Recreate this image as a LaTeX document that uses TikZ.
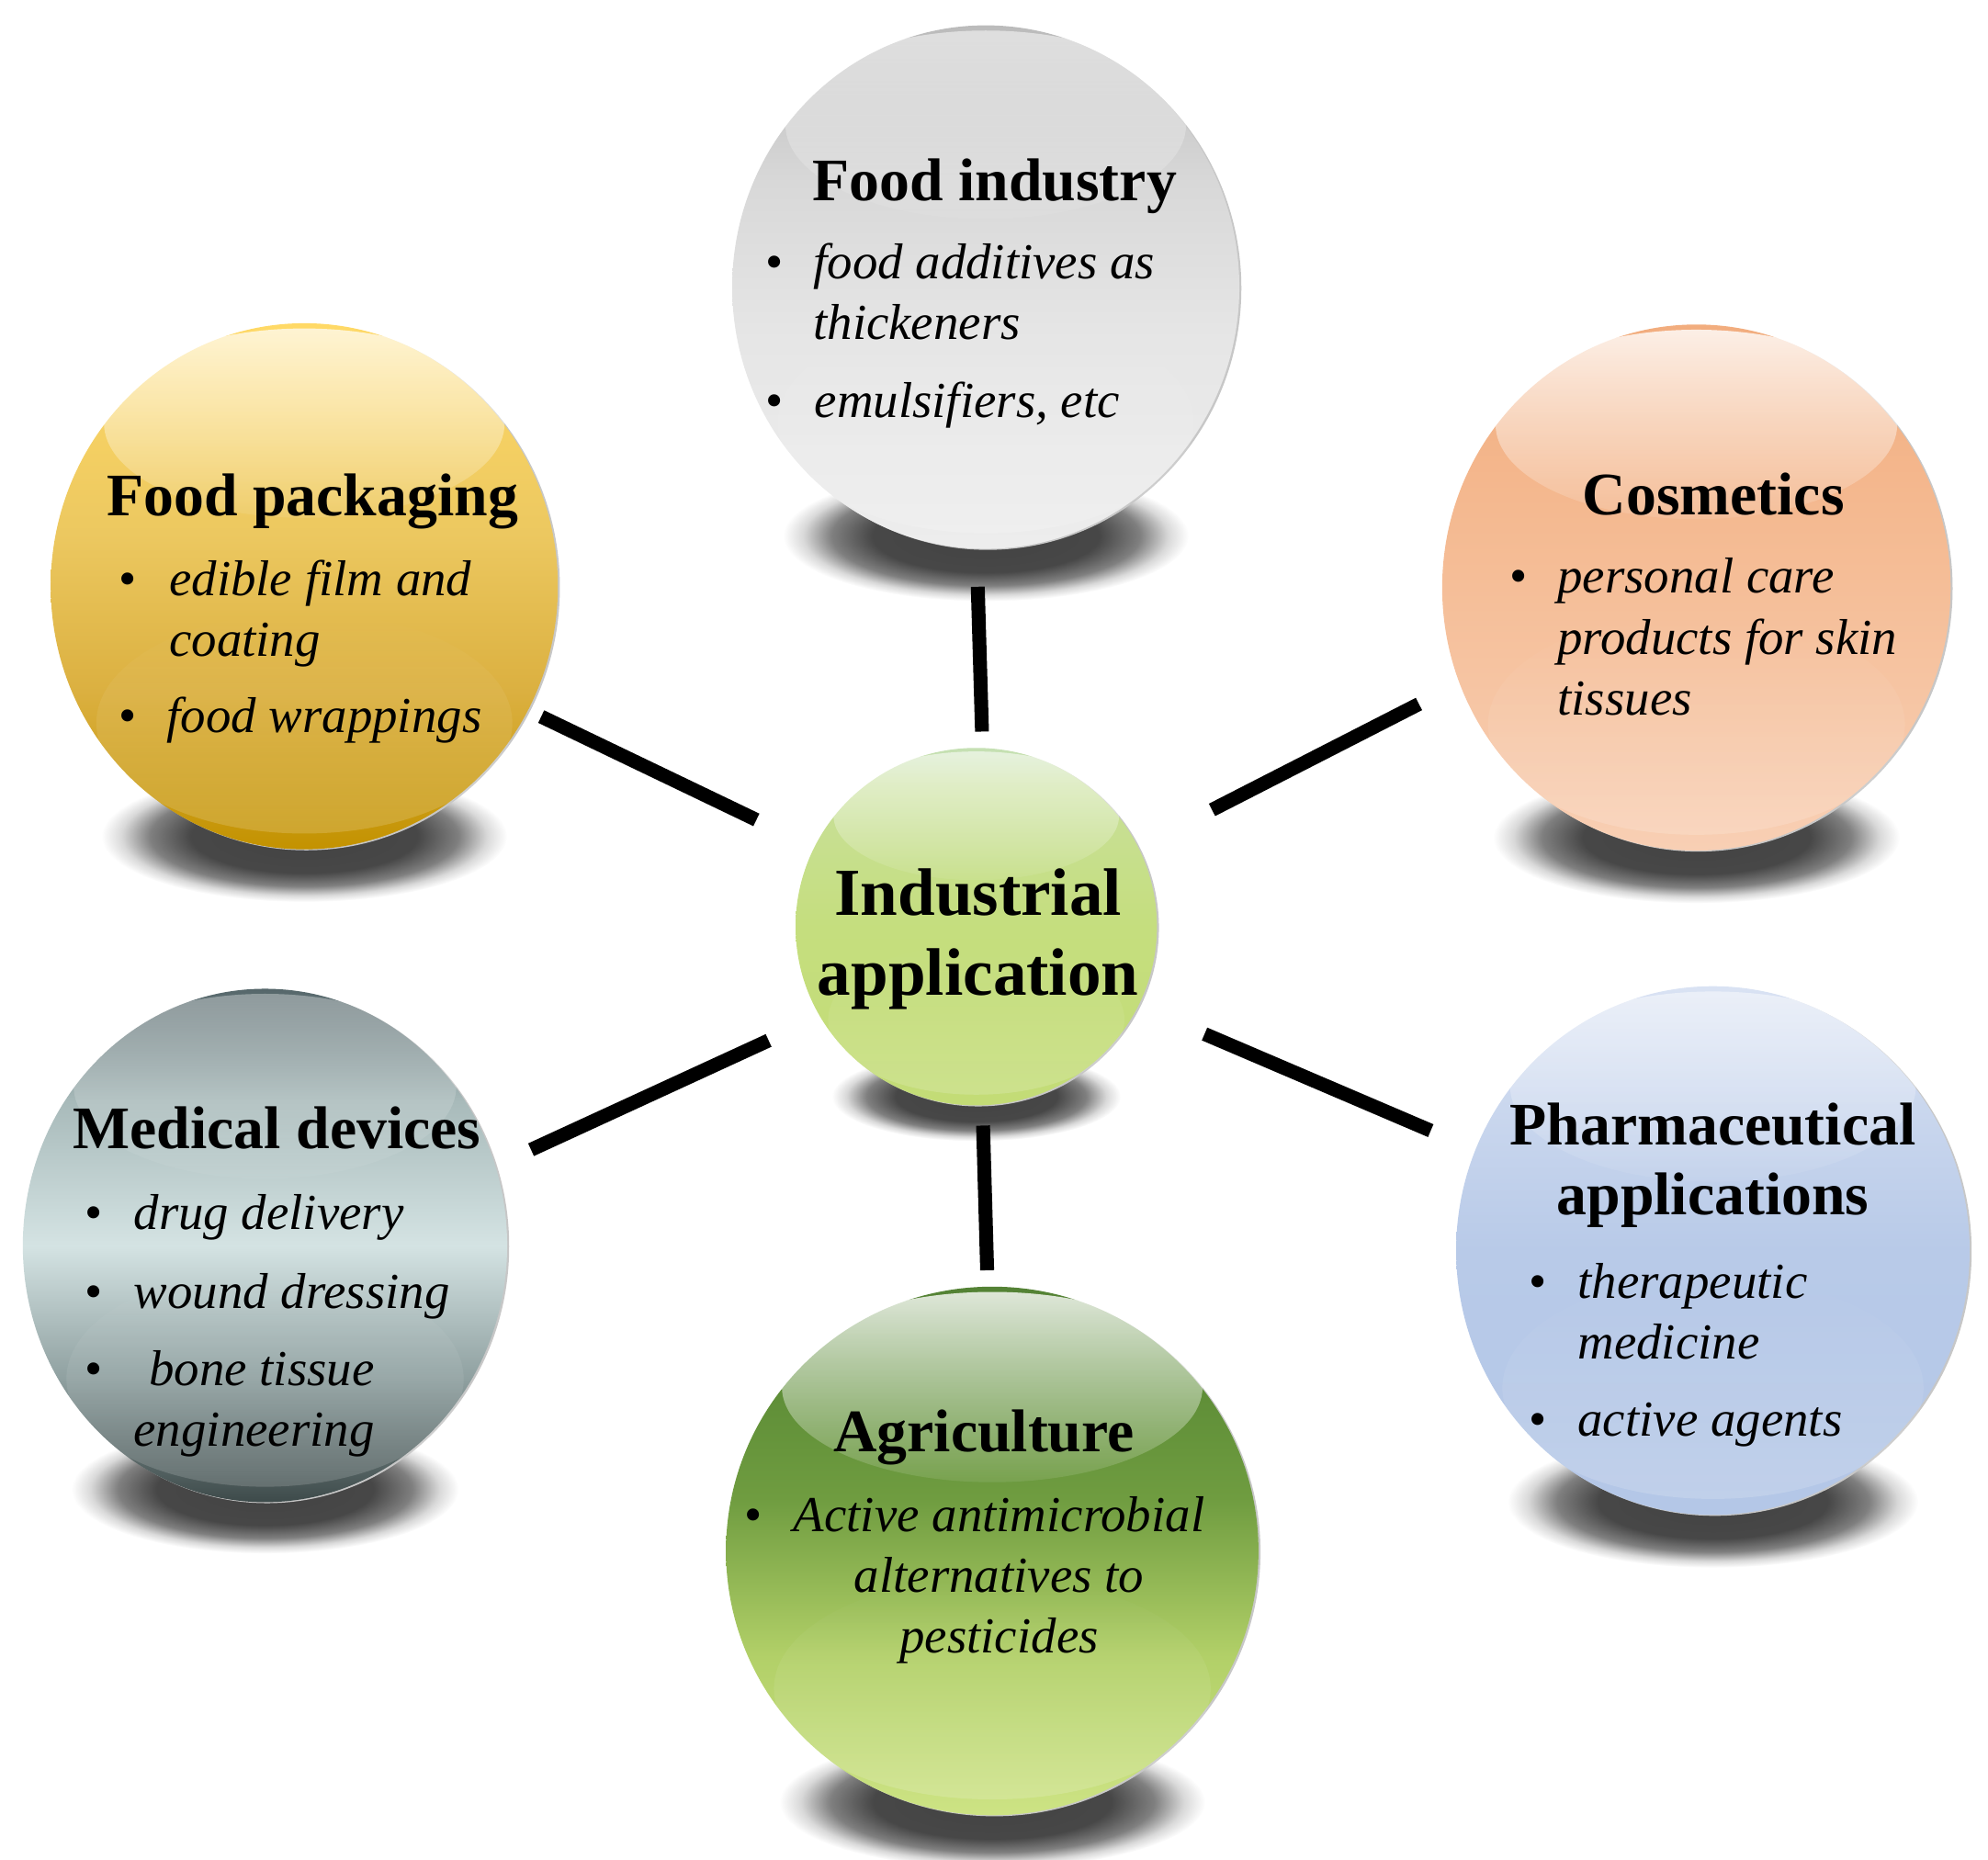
\documentclass[tikz,border=0pt]{standalone}
\usepackage{fontspec}
\setmainfont{Liberation Serif}
\usetikzlibrary{fadings,shapes.geometric}

% colours
\definecolor{fiA}{HTML}{EDEDED}\definecolor{fiB}{HTML}{E6E6E6}\definecolor{fiC}{HTML}{D8D8D8}\definecolor{fiD}{HTML}{BBBBBB}
\definecolor{fpA}{HTML}{C39200}\definecolor{fpB}{HTML}{DBB040}\definecolor{fpC}{HTML}{ECC860}\definecolor{fpD}{HTML}{FFD966}
\definecolor{coA}{HTML}{F8CFB4}\definecolor{coB}{HTML}{F5BE98}\definecolor{coC}{HTML}{F2AD7E}
\definecolor{ctA}{HTML}{C3DC76}\definecolor{ctB}{HTML}{C5DE7E}\definecolor{ctC}{HTML}{C8E09A}\definecolor{ctD}{HTML}{C5E0B4}
\definecolor{mdA}{HTML}{3D4A4A}\definecolor{mdB}{HTML}{8FA0A0}\definecolor{mdC}{HTML}{D4E3E3}\definecolor{mdD}{HTML}{A8BABA}\definecolor{mdE}{HTML}{55666A}
\definecolor{agA}{HTML}{CDE384}\definecolor{agB}{HTML}{B2D068}\definecolor{agC}{HTML}{6F9C40}\definecolor{agD}{HTML}{5A8A35}\definecolor{agE}{HTML}{548235}
\definecolor{phA}{HTML}{B4C7E7}\definecolor{phB}{HTML}{B8CAE8}\definecolor{phC}{HTML}{D9E2F3}

\pgfdeclareverticalshading{shFI}{100bp}{color(0bp)=(fiA); color(25bp)=(fiA); color(45bp)=(fiB); color(60bp)=(fiC); color(75bp)=(fiD); color(100bp)=(fiD)}
\pgfdeclareverticalshading{shFP}{100bp}{color(0bp)=(fpA); color(25bp)=(fpA); color(40bp)=(fpB); color(55bp)=(fpC); color(75bp)=(fpD); color(100bp)=(fpD)}
\pgfdeclareverticalshading{shCO}{100bp}{color(0bp)=(coA); color(25bp)=(coA); color(50bp)=(coB); color(75bp)=(coC); color(100bp)=(coC)}
\pgfdeclareverticalshading{shCT}{100bp}{color(0bp)=(ctA); color(25bp)=(ctA); color(50bp)=(ctB); color(70bp)=(ctC); color(75bp)=(ctD); color(100bp)=(ctD)}
\pgfdeclareverticalshading{shMD}{100bp}{color(0bp)=(mdA); color(25bp)=(mdA); color(37bp)=(mdB); color(50bp)=(mdC); color(64bp)=(mdD); color(75bp)=(mdE); color(100bp)=(mdE)}
\pgfdeclareverticalshading{shAG}{100bp}{color(0bp)=(agA); color(25bp)=(agA); color(40bp)=(agB); color(55bp)=(agC); color(68bp)=(agD); color(75bp)=(agE); color(100bp)=(agE)}
\pgfdeclareverticalshading{shPH}{100bp}{color(0bp)=(phA); color(25bp)=(phA); color(50bp)=(phB); color(75bp)=(phC); color(100bp)=(phC)}
\pgfdeclareradialshading{shadowball}{\pgfpointorigin}{color(0bp)=(black!74); color(14bp)=(black!72); color(19bp)=(black!50); color(22.5bp)=(black!15); color(25bp)=(white); color(50bp)=(white)}

\tikzfading[name=glossfade, top color=transparent!5, bottom color=transparent!90]
\tikzfading[name=glowfade, top color=transparent!100, bottom color=transparent!45]

\newcommand\mysphere[7]{% name, cx, cy, rx, ry, shading, highlight opacity
  \shade[shading=shadowball] ({#2},{#3+0.95*#5}) ellipse [x radius={0.8*#4}, y radius={0.25*#5}];
  \fill[black!22] ({#2+1.6},{#3+0.8}) ellipse [x radius={#4}, y radius={#5}];
  \node[sphere, minimum width={2*#4*0.0138cm}, minimum height={2*#5*0.0138cm}] (#1) at (#2,#3) {};
  \shade[shading=#6] (#2,#3) ellipse [x radius={#4}, y radius={#5}];
  \fill[white, path fading=glossfade, fill opacity=#7] ({#2},{#3-0.62*#5}) ellipse [x radius={0.79*#4}, y radius={0.36*#5}];
  \fill[white, path fading=glowfade, fill opacity=0.3] ({#2},{#3+0.52*#5}) ellipse [x radius={0.82*#4}, y radius={0.42*#5}];
}
\newcommand\mylines[1]{\begin{tabular}[t]{@{}l@{}}#1\end{tabular}}
\newcommand\myclines[1]{\begin{tabular}[t]{@{}c@{}}#1\end{tabular}}

\begin{document}
\begin{tikzpicture}[x=0.0138cm, y=-0.0138cm,
  sphere/.style={ellipse, inner sep=0pt, outer sep=0pt},
  conn/.style={line width=4.3pt, black},
  ttl/.style={font=\fontsize{18.7}{21.6}\selectfont\bfseries, inner sep=0pt, anchor=base},
  itm/.style={font=\fontsize{15.6}{18.85}\selectfont\itshape, inner sep=0pt, anchor=base west},
  itmc/.style={itm, anchor=base},
  bul/.style={font=\fontsize{15.6}{18.85}\selectfont, inner sep=0pt, anchor=base},
  ctrtxt/.style={font=\fontsize{20.8}{24.7}\selectfont\bfseries, inner sep=0pt, anchor=base}]
\useasboundingbox (0,0) rectangle (1568,1467);

% spheres
\mysphere{fi}{777.5}{226.5}{200}{206.5}{shFI}{0.55}
\mysphere{fp}{240}{462.5}{200}{207.5}{shFP}{0.75}
\mysphere{cos}{1338}{463.5}{200.5}{207.5}{shCO}{0.85}
\mysphere{ctr}{770}{731}{142.5}{141}{shCT}{0.6}
\mysphere{med}{209}{982.5}{191}{202.5}{shMD}{0.35}
\mysphere{agr}{782.6}{1223.5}{210}{208.5}{shAG}{0.85}
\mysphere{ph}{1351}{986.5}{202.5}{208.5}{shPH}{0.5}

% connectors
\draw[conn, shorten <=0.179cm, shorten >=0.414cm] (ctr.88.5) -- (fi.268.7);
\draw[conn, shorten <=0.698cm, shorten >=0.160cm] (ctr.154.5) -- (fp.331.9);
\draw[conn, shorten <=0.901cm, shorten >=0.497cm] (ctr.26.9) -- (cos.202.1);
\draw[conn, shorten <=0.618cm, shorten >=0.428cm] (ctr.210.1) -- (med.19.0);
\draw[conn, shorten <=0.221cm, shorten >=0.179cm] (ctr.272.2) -- (agr.91.45);
\draw[conn, shorten <=0.784cm, shorten >=0.530cm] (ctr.334.1) -- (ph.157.25);

% Food industry
\node[ttl] (fiT) at (784.5,158) {Food industry};
\node[bul] (fiB1) at (611,220) {\textbullet};
\node[itm] (fiI1) at (641,220) {\mylines{food additives as\\thickeners}};
\node[bul] (fiB2) at (611,329) {\textbullet};
\node[itm] (fiI2) at (642,329) {emulsifiers, etc};

% Food packaging
\node[ttl] (fpT) at (246.5,407) {Food packaging};
\node[bul] (fpB1) at (101,470) {\textbullet};
\node[itm] (fpI1) at (133,470) {\mylines{edible film and\\coating}};
\node[bul] (fpB2) at (101,578) {\textbullet};
\node[itm] (fpI2) at (131,578) {food wrappings};

% Cosmetics
\node[ttl] (coT) at (1351.5,406) {Cosmetics};
\node[bul] (coB1) at (1198,468) {\textbullet};
\node[itm] (coI1) at (1228,468) {\mylines{personal care\\products for skin\\tissues}};

% Centre
\node[ctrtxt] (ctT) at (771.5,722) {\myclines{Industrial\\application}};

% Medical devices
\node[ttl] (mdT) at (218.5,906) {Medical devices};
\node[bul] (mdB1) at (74,970) {\textbullet};
\node[itm] (mdI1) at (105,970) {drug delivery};
\node[bul] (mdB2) at (74,1032) {\textbullet};
\node[itm] (mdI2) at (105,1032) {wound dressing};
\node[bul] (mdB3) at (74,1093) {\textbullet};
\node[itm] (mdI3) at (105,1093) {\mylines{\hspace*{0.166cm}bone tissue\\engineering}};

% Agriculture
\node[ttl] (agT) at (776,1145) {Agriculture};
\node[bul] (agB1) at (594,1208) {\textbullet};
\node[itmc] (agI1) at (788,1208) {\myclines{Active antimicrobial\\alternatives to\\pesticides}};

% Pharmaceutical
\node[ttl] (phT) at (1351,903) {\myclines{Pharmaceutical\\applications}};
\node[bul] (phB1) at (1213,1024) {\textbullet};
\node[itm] (phI1) at (1244,1024) {\mylines{therapeutic\\medicine}};
\node[bul] (phB2) at (1213,1133) {\textbullet};
\node[itm] (phI2) at (1244,1133) {active agents};
\end{tikzpicture}
\end{document}
